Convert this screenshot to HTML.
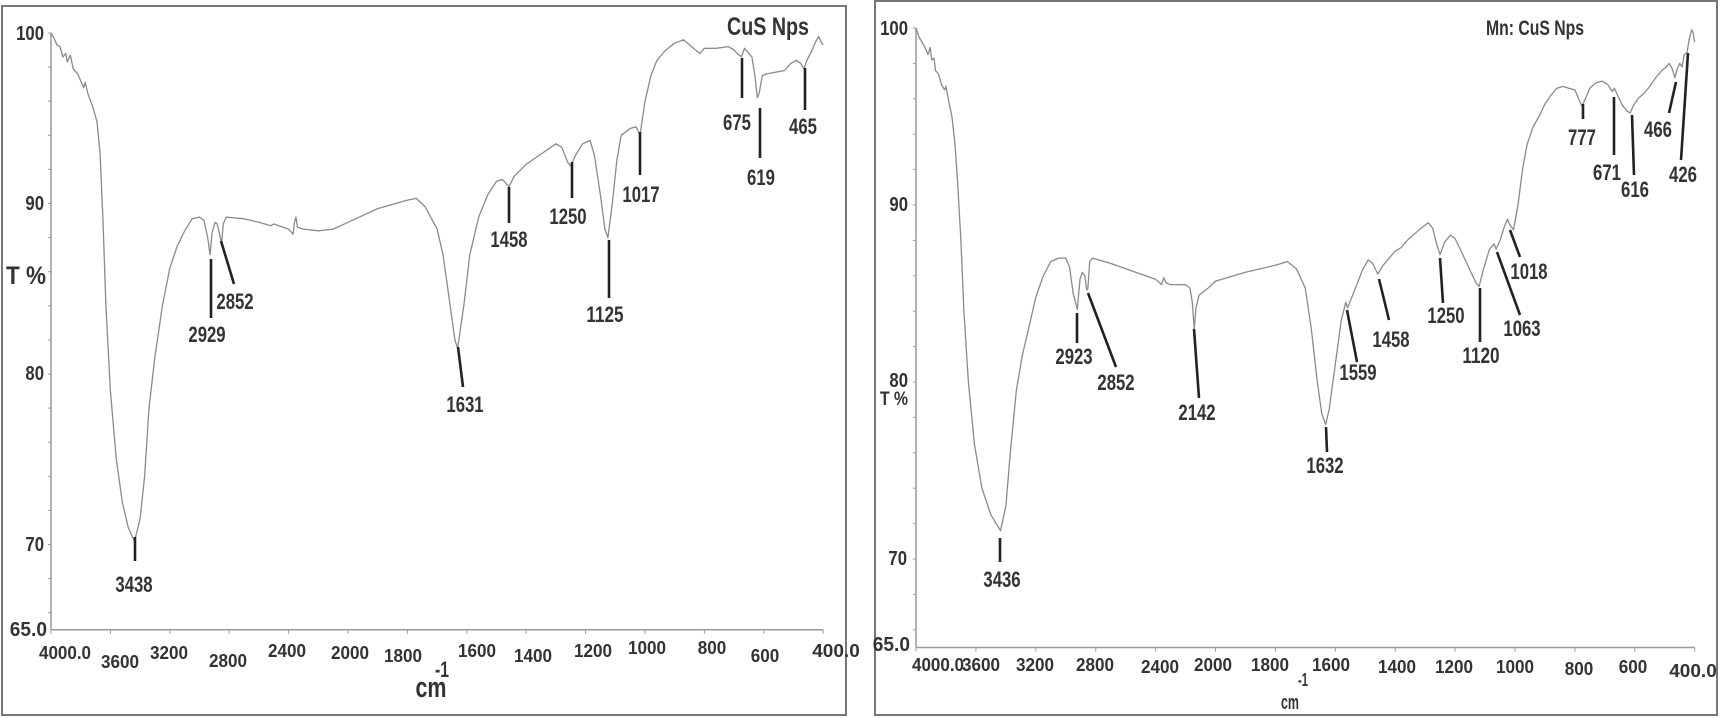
<!DOCTYPE html>
<html><head><meta charset="utf-8"><style>
html,body{margin:0;padding:0;background:#fff;width:1720px;height:718px;overflow:hidden}
svg text{font-family:"Liberation Sans Narrow","Liberation Sans",sans-serif;fill:#333;font-weight:bold}
</style></head><body>
<svg id="s" width="1720" height="718" xmlns="http://www.w3.org/2000/svg">
<rect x="2" y="6" width="844" height="709" fill="none" stroke="#777" stroke-width="2"/>
<rect x="875" y="1" width="842" height="714" fill="none" stroke="#777" stroke-width="2"/>
</svg>
<script>
var S=document.getElementById('s'),NS='http://www.w3.org/2000/svg';
function el(t,a,txt){var e=document.createElementNS(NS,t);for(var k in a)e.setAttribute(k,a[k]);if(txt!==undefined)e.textContent=txt;S.appendChild(e);return e;}
function T(x,y,fs,txt,w,anc){var a={x:x,y:y,'font-size':fs,'text-anchor':anc||'middle'};if(w){a.textLength=w;a.lengthAdjust='spacingAndGlyphs';}return el('text',a,txt);}
function idx(w){return w>=2000?(4000-w)/400:5+(2000-w)/200;}
function panel(P){
  var X=function(w){return P.x0+idx(w)*P.dx;},Y=function(v){return P.y100+(100-v)*P.sy;};
  el('line',{x1:P.x0,y1:Y(100),x2:P.x0,y2:Y(65),stroke:'#999','stroke-width':1.5});
  el('line',{x1:P.x0,y1:Y(65),x2:X(400),y2:Y(65),stroke:'#999','stroke-width':1.5});
  for(var v=66;v<=100;v+=2){el('line',{x1:P.x0-3,y1:Y(v),x2:P.x0,y2:Y(v),stroke:'#999','stroke-width':1});}
  for(var i=0;i<=13;i++){var x=P.x0+i*P.dx;el('line',{x1:x,y1:Y(65),x2:x,y2:Y(65)+4,stroke:'#999','stroke-width':1});}
  var d='';P.data.forEach(function(p,i){d+=(i?'L':'M')+X(p[0]).toFixed(1)+','+Y(p[1]).toFixed(1);});
  el('path',{d:d,fill:'none',stroke:'#8a8a8a','stroke-width':1.3,'stroke-linejoin':'round'});
  P.yl.forEach(function(a){T(a[0],a[1],20,a[2],a[2].length*9.3,'end');});
  P.xl.forEach(function(a){T(a[0],a[1],18,a[2],a[2].length==6?52:a[2].length*9.5);});
  P.ann.forEach(function(a){el('line',{x1:a[0],y1:a[1],x2:a[2],y2:a[3],stroke:'#222','stroke-width':2.6});
    T(a[4],a[5],22,a[6],a[6].length*9.3);});
}
panel({x0:51,dx:59.4,y100:33,sy:17.05,
data:[[4000,100],[3980,99.7],[3960,99.3],[3940,99.2],[3920,98.6],[3900,98.8],[3890,98.3],[3870,98.7],[3850,97.9],[3820,97.6],[3800,97.2],[3780,96.8],[3770,97.1],[3750,96.4],[3720,95.7],[3700,95.1],[3690,94.8],[3670,93],[3650,89],[3630,84],[3600,79],[3560,75],[3520,72.5],[3480,71],[3438,70.2],[3400,71.5],[3370,74],[3340,78],[3300,81],[3250,84],[3200,86.2],[3150,87.5],[3100,88.4],[3050,89.1],[3000,89.2],[2970,89],[2945,88],[2929,87],[2915,88.3],[2895,88.9],[2880,88.8],[2860,88],[2852,87.6],[2840,88.8],[2820,89.2],[2700,89.1],[2600,88.9],[2520,88.7],[2500,88.8],[2400,88.5],[2370,88.2],[2360,88.9],[2350,89.2],[2340,88.6],[2300,88.5],[2200,88.4],[2100,88.5],[2000,88.9],[1900,89.7],[1800,90.2],[1770,90.3],[1740,89.8],[1700,88.5],[1680,87],[1660,84.5],[1640,82],[1631,81.5],[1610,84],[1590,87],[1560,89.2],[1530,90.5],[1500,91.3],[1480,91.4],[1458,91],[1440,91.6],[1400,92.3],[1350,92.9],[1300,93.5],[1280,93.3],[1260,92.4],[1250,92.2],[1235,92.8],[1210,93.5],[1185,93.7],[1170,92.8],[1150,90.5],[1135,88.5],[1125,88],[1110,90],[1095,92.5],[1080,94],[1050,94.4],[1030,94.5],[1017,94],[1000,96],[980,97.5],[960,98.4],[930,99],[900,99.4],[870,99.6],[850,99.3],[830,99],[815,98.8],[800,99.1],[760,99.1],[720,99.2],[700,99],[690,98.8],[675,98.6],[665,99.1],[650,98.8],[640,98.6],[630,97.5],[622,96.2],[615,96.5],[605,97.5],[590,97.6],[560,97.7],[530,97.8],[510,98.2],[490,98.4],[475,98.2],[465,97.9],[455,98.4],[440,98.9],[425,99.5],[415,99.8],[405,99.4],[400,99.3]],
yl:[[44,40,'100'],[44,210,'90'],[44,380,'80'],[44,551,'70'],[47,636,'65.0']],
xl:[[65,659,'4000.0'],[120,668,'3600'],[169,659,'3200'],[228,667,'2800'],[287,657,'2400'],[350,659,'2000'],[403,662,'1800'],[477,657,'1600'],[533,662,'1400'],[593,657,'1200'],[647,654,'1000'],[712,654,'800'],[765,662,'600'],[836,657,'400.0']],
ann:[[135,537,135,561,134,592,'3438'],[211,259,211,318,207,342,'2929'],[221,241,234,284,235,309,'2852'],[458,347,463,387,465,412,'1631'],[509,187,509,223,509,247,'1458'],[572,162,572,198,568,224,'1250'],[609,240,609,298,605,322,'1125'],[640,132,640,175,641,202,'1017'],[742,58,742,98,737,130,'675'],[760,108,760,158,761,185,'619'],[805,68,805,110,803,134,'465']]});
panel({x0:916,dx:59.9,y100:28,sy:17.7,
data:[[4000,100],[3980,99.5],[3960,99.2],[3940,98.9],[3920,98.5],[3905,98.9],[3895,98.2],[3880,98.3],[3870,97.6],[3850,97.4],[3830,96.8],[3810,96.5],[3800,96.7],[3780,95.8],[3760,95],[3740,93.5],[3720,91],[3700,88],[3680,84],[3650,80],[3610,76.5],[3560,74],[3500,72.5],[3436,71.6],[3400,73],[3370,76],[3330,79.5],[3290,81.5],[3240,83.3],[3200,84.8],[3150,86],[3100,86.8],[3050,87],[3000,87],[2975,86.5],[2950,85],[2923,84.1],[2905,85.8],[2890,86.2],[2872,86],[2860,85.2],[2852,85.3],[2840,86.8],[2820,87],[2700,86.7],[2600,86.4],[2500,86.1],[2400,85.8],[2360,85.5],[2345,85.9],[2330,85.6],[2300,85.5],[2200,85.5],[2170,85.3],[2155,84.5],[2142,83],[2130,84.2],[2110,84.9],[2050,85.3],[2000,85.7],[1900,86.2],[1800,86.6],[1760,86.8],[1730,86.4],[1700,85.3],[1680,83],[1660,80],[1645,78.2],[1632,77.6],[1620,78.5],[1600,81],[1580,83.5],[1565,84.5],[1559,84.2],[1540,85],[1510,86.3],[1490,86.9],[1475,86.7],[1458,86.1],[1440,86.6],[1400,87.4],[1380,87.6],[1360,88],[1320,88.6],[1290,89],[1275,88.7],[1260,87.7],[1250,87.2],[1235,87.9],[1215,88.3],[1200,88.1],[1180,87.4],[1150,86.3],[1130,85.6],[1120,85.4],[1105,86.4],[1085,87.5],[1070,87.8],[1063,87.5],[1050,88],[1035,88.8],[1025,89.2],[1018,88.9],[1005,88.6],[990,90],[975,92],[960,93.4],[940,94.4],[920,95],[900,95.7],[880,96.2],[860,96.6],[840,96.7],[820,96.6],[800,96.5],[785,95.9],[777,95.6],[765,96],[750,96.6],[730,96.9],[710,97],[690,96.8],[675,96.4],[668,96.6],[655,96.1],[640,95.6],[625,95.3],[616,95.2],[605,95.6],[590,96],[570,96.3],[550,96.7],[530,97.2],[510,97.6],[495,97.8],[485,98],[475,97.7],[466,97.2],[458,97.7],[450,98],[442,97.8],[435,98.5],[426,98.6],[418,99.4],[410,99.9],[405,99.7],[400,99.2]],
yl:[[908,35,'100'],[908,211,'90'],[908,387,'80'],[907,565,'70'],[910,651,'65.0']],
xl:[[938,671,'4000.0'],[981,671,'3600'],[1035,671,'3200'],[1095,671,'2800'],[1160,673,'2400'],[1213,671,'2000'],[1270,671,'1800'],[1331,671,'1600'],[1397,673,'1400'],[1454,673,'1200'],[1515,673,'1000'],[1579,675,'800'],[1633,673,'600'],[1693,677,'400.0']],
ann:[[1000,538,1000,562,1002,587,'3436'],[1077,313,1077,343,1074,364,'2923'],[1088,293,1116,367,1116,390,'2852'],[1194,329,1199,398,1197,420,'2142'],[1326,427,1327,452,1325,473,'1632'],[1347,310,1357,362,1358,380,'1559'],[1379,279,1389,320,1391,347,'1458'],[1440,258,1443,303,1446,323,'1250'],[1480,288,1480,342,1481,363,'1120'],[1497,252,1520,315,1522,336,'1063'],[1510,230,1520,257,1529,279,'1018'],[1583,104,1583,119,1582,145,'777'],[1614,97,1614,155,1607,180,'671'],[1632,115,1634,175,1635,197,'616'],[1676,82,1669,113,1658,137,'466'],[1688,53,1681,160,1683,182,'426']]});
T(768,35,25,'CuS Nps',82);
T(1535,35,21,'Mn: CuS Nps',98);
T(6,284,25,'T %',40,'start');
T(880,405,19,'T %',28,'start');
T(431,697,29,'cm',31);
T(442,677,22,'-1',14);
T(1290,709,20,'cm',18);
T(1303,686,18,'-1',10);
</script>
</body></html>
